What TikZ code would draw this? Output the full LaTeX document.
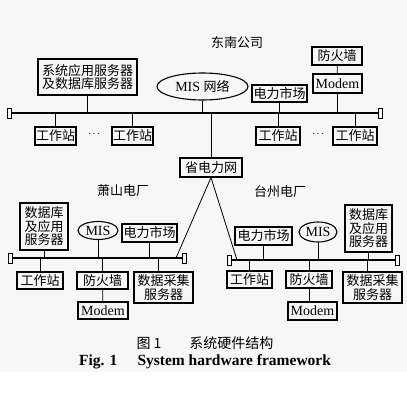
\documentclass[tikz,border=0pt]{standalone}
\usepackage{fontspec}
\setmainfont{Liberation Serif}
\newfontfamily\cjk{Noto Sans CJK SC}
\usetikzlibrary{shapes.geometric}

\tikzset{
  box/.style={draw, line width=1.1pt, inner sep=0pt, align=center,
    font=\cjk\fontsize{13}{15}\selectfont},
  latin/.style={box, font=\fontsize{14}{15}\selectfont},
  oval/.style={draw, ellipse, line width=1.1pt, inner sep=0pt,
    font=\fontsize{14}{15}\selectfont},
  term/.style={draw, line width=0.6pt, minimum width=4pt, minimum height=10pt, inner sep=0pt},
  bus/.style={line width=1.4pt},
  link/.style={line width=0.8pt},
  plain/.style={font=\cjk\fontsize{13}{15}\selectfont}
}

\begin{document}
\begin{tikzpicture}[x=1pt, y=-1pt]
    \useasboundingbox (0,0) rectangle (407,407);
    \fill [black!3] (0,0) rectangle (407,372);

    % top network
    \node [plain] (co) at (237,43) {东南公司};
    \node [term] (tl0) at (9,113) {};
    \node [term] (tr0) at (380,113) {};
    \draw [bus] (tl0) -- (tr0);
    \node [box, minimum width=99pt, minimum height=36pt] (srv) at (87.5,77) {系统应用服务器\\[-1.5pt]及数据库服务器};
    \node [oval, minimum width=91pt, minimum height=27pt] (mis0) at (202.5,86.5) {MIS {\cjk\fontsize{13}{15}\selectfont 网络}};
    \node [box, minimum width=55pt, minimum height=17pt] (mkt0) at (279.5,93.5) {电力市场};
    \node [box, minimum width=50pt, minimum height=18pt] (fw0) at (337,56) {防火墙};
    \node [latin, minimum width=49pt, minimum height=19pt] (mdm0) at (337.5,83.5) {Modem};
    \node [box, minimum width=41pt, minimum height=18pt] (ws1) at (55.5,136) {工作站};
    \node [box, minimum width=41pt, minimum height=18pt] (ws2) at (132.5,136) {工作站};
    \node [box, minimum width=44pt, minimum height=18pt] (ws3) at (278,136) {工作站};
    \node [box, minimum width=44pt, minimum height=18pt] (ws4) at (355,136) {工作站};
    \node [font=\bfseries] (dt1) at (94,134) {$\cdots$};
    \node [font=\bfseries] (dt2) at (318,134) {$\cdots$};
    \draw [link] (srv) -- (srv |- tl0);
    \draw [link] (mis0) -- (mis0 |- tl0);
    \draw [link] (mkt0) -- (mkt0 |- tl0);
    \draw [link] (fw0) -- (mdm0);
    \draw [link] (mdm0) -- (mdm0 |- tl0);
    \draw [link] (ws1) -- (ws1 |- tl0);
    \draw [link] (ws2) -- (ws2 |- tl0);
    \draw [link] (ws3) -- (ws3 |- tl0);
    \draw [link] (ws4) -- (ws4 |- tl0);

    % provincial grid
    \node [box, minimum width=62pt, minimum height=19pt] (prov) at (211,167.5) {省电力网};
    \draw [link] (prov) -- (prov |- tl0);
    \coordinate (jl) at (176,258);
    \coordinate (jr) at (237,260);
    \draw [link] (prov.south) -- (jl);
    \draw [link] (prov.south) -- (jr);

    % left plant
    \node [plain] (pl1) at (123,191) {萧山电厂};
    \node [term] (tl1) at (10,258) {};
    \node [term] (tr1) at (184,258) {};
    \draw [bus] (tl1) -- (tr1);
    \node [box, minimum width=48pt, minimum height=47pt] (db1) at (44,226.5) {数据库\\[-1.5pt]及应用\\[-1.5pt]服务器};
    \node [oval, minimum width=40pt, minimum height=18pt] (mis1) at (98,230.5) {MIS};
    \node [box, minimum width=55pt, minimum height=18pt] (mkt1) at (149.5,233) {电力市场};
    \node [box, minimum width=46pt, minimum height=17pt] (ws5) at (40,280.5) {工作站};
    \node [box, minimum width=51pt, minimum height=17pt] (fw1) at (102.5,280.5) {防火墙};
    \node [latin, minimum width=50pt, minimum height=17pt] (mdm1) at (103,310.5) {Modem};
    \node [box, minimum width=59pt, minimum height=31pt] (daq1) at (163.5,287.5) {数据采集\\[-1.5pt]服务器};
    \draw [link] (db1) -- (db1 |- tl1);
    \draw [link] (mis1) -- (mis1 |- tl1);
    \draw [link] (mkt1) -- (mkt1 |- tl1);
    \draw [link] (ws5) -- (ws5 |- tl1);
    \draw [link] (fw1) -- (fw1 |- tl1);
    \draw [link] (fw1) -- (mdm1);
    \draw [link] ([xshift=-5pt]daq1.north) -- ([xshift=-5pt]daq1.north |- tl1);

    % right plant
    \node [plain] (pl2) at (280,192) {台州电厂};
    \node [term] (tl2) at (229,260) {};
    \node [term] (tr2) at (397,260) {};
    \draw [bus] (tl2) -- (tr2);
    \node [box, minimum width=57pt, minimum height=18pt] (mkt2) at (263.5,236) {电力市场};
    \node [oval, minimum width=38pt, minimum height=20pt] (mis2) at (318,232) {MIS};
    \node [box, minimum width=47pt, minimum height=47pt] (db2) at (368.5,228.5) {数据库\\[-1.5pt]及应用\\[-1.5pt]服务器};
    \node [box, minimum width=45pt, minimum height=17pt] (ws6) at (249.5,279.5) {工作站};
    \node [box, minimum width=46pt, minimum height=17pt] (fw2) at (309,279.5) {防火墙};
    \node [latin, minimum width=49pt, minimum height=18pt] (mdm2) at (312.5,311) {Modem};
    \node [box, minimum width=59pt, minimum height=31pt] (daq2) at (372.5,287.5) {数据采集\\[-1.5pt]服务器};
    \draw [link] (mkt2) -- (mkt2 |- tl2);
    \draw [link] (mis2) -- (mis2 |- tl2);
    \draw [link] (db2) -- (db2 |- tl2);
    \draw [link] (ws6) -- (ws6 |- tl2);
    \draw [link] (fw2) -- (fw2 |- tl2);
    \draw [link] (fw2.south) -- (fw2.south |- mdm2.north);
    \draw [link] ([xshift=-5pt]daq2.north) -- ([xshift=-5pt]daq2.north |- tl2);

    % caption
    \node [font=\cjk\fontsize{14}{16}\selectfont] (cap1) at (205,343) {图 1\hspace{2em}系统硬件结构};
    \node [font=\bfseries\fontsize{15.5}{17}\selectfont] (cap2) at (205,362) {Fig. 1\hspace{1.3em}System hardware framework};
\end{tikzpicture}
\end{document}
